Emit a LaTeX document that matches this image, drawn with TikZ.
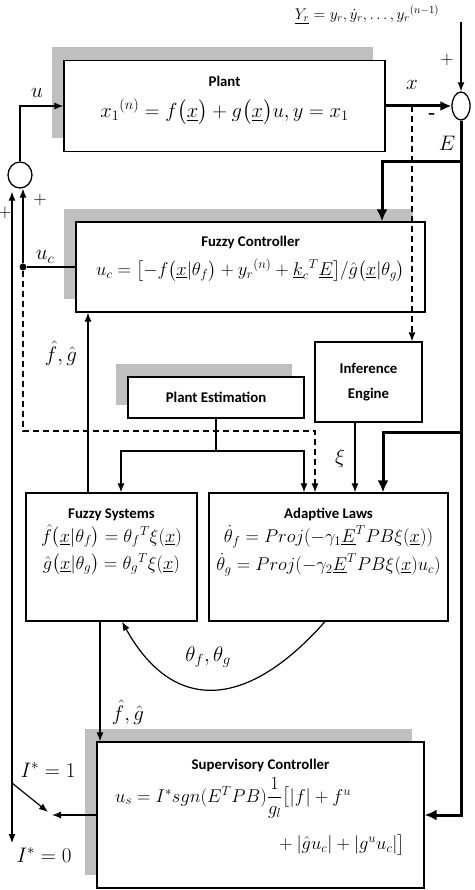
\RequirePackage{fix-cm}
\documentclass[tikz,border=0pt]{standalone}
\usepackage{fontspec}
\usepackage{amsmath}
\newfontfamily\blockfont{Carlito}
\usetikzlibrary{shapes.geometric}
\usetikzlibrary{shadows}
\usetikzlibrary{arrows.meta}

\begin{document}
\begin{tikzpicture}[x=1pt,y=-1pt,
    block/.style={draw,fill=white,line width=1.2pt,inner sep=0pt},
    shadowblock/.style={block,general shadow={fill=black!25,shadow xshift=-12pt,shadow yshift=13pt}},
    summer/.style={ellipse,draw,fill=white,line width=1.3pt,inner sep=0pt},
    title/.style={font=\fontsize{14.8}{25}\blockfont\bfseries,align=center},
    formula/.style={font=\fontsize{18.5}{22}\selectfont,inner sep=0pt},
    sig/.style={font=\fontsize{21}{24}\selectfont,inner sep=0pt},
    flow/.style={line width=1.2pt,-{Latex[length=9pt,width=7pt]}},
    heavy/.style={line width=3pt,-{Latex[length=12pt,width=11pt]}}]
    \useasboundingbox (0,0) rectangle (474,890);
    \node[shadowblock,minimum width=321pt,minimum height=91pt] (plant) at (224.5,106) {};
    \node[shadowblock,minimum width=349pt,minimum height=90pt] (fc) at (250.5,267) {};
    \node[shadowblock,minimum width=176pt,minimum height=41pt] (pe) at (216,397.5) {};
    \node[block,minimum width=107pt,minimum height=80pt] (ie) at (368.5,382) {};
    \node[block,minimum width=171pt,minimum height=128pt] (fs) at (111.5,557) {};
    \node[block,minimum width=239pt,minimum height=128pt] (al) at (328.5,557) {};
    \node[shadowblock,minimum width=327pt,minimum height=146pt] (sc) at (260.5,815) {};
    \node[summer,minimum width=18pt,minimum height=28pt] (sumr) at (461,106) {};
    \node[summer,minimum width=24pt,minimum height=26pt] (suml) at (20,175) {};
    \node[circle,fill=black,inner sep=0pt,minimum size=7pt] (ucdot) at (23,267) {};
    \node[title] (plant-t) at ([yshift=-21.5pt]plant.north) {Plant};
    \node[formula,font=\fontsize{20.5}{24}\selectfont] (plant-e) at ([yshift=-52pt]plant.north) {$x_1{}^{(n)} = f\bigl(\underline{x}\bigr) + g\bigl(\underline{x}\bigr)u, y = x_1$};
    \node[title] (fc-t) at ([yshift=-21pt]fc.north) {Fuzzy Controller};
    \node[formula] (fc-e) at ([yshift=-49pt]fc.north) {$u_c = \bigl[-f\bigl(\underline{x}|\theta_f\bigr) + y_r{}^{(n)} + \underline{k}_c{}^T\underline{E}\bigr]/\hat{g}\bigl(\underline{x}|\theta_g\bigr)$};
    \node[title] (pe-t) at (pe.center) {Plant Estimation};
    \node[title] (ie-t) at (ie.center) {Inference\\Engine};
    \node[title] (fs-t) at ([yshift=-22pt]fs.north) {Fuzzy Systems};
    \node[formula] (fs-e1) at ([yshift=-44pt]fs.north) {$\hat{f}\bigl(\underline{x}|\theta_f\bigr) = \theta_f{}^T\xi(\underline{x})$};
    \node[formula] (fs-e2) at ([yshift=-72pt]fs.north) {$\hat{g}\bigl(\underline{x}|\theta_g\bigr) = \theta_g{}^T\xi(\underline{x})$};
    \node[title] (al-t) at ([yshift=-22pt]al.north) {Adaptive Laws};
    \node[formula] (al-e1) at ([yshift=-44pt]al.north) {$\dot{\theta}_f = Proj(-\gamma_1\underline{E}^T PB\xi(\underline{x}))$};
    \node[formula] (al-e2) at ([yshift=-72pt]al.north) {$\dot{\theta}_g = Proj(-\gamma_2\underline{E}^T PB\xi(\underline{x})u_c)$};
    \node[title] (sc-t) at ([yshift=-24pt]sc.north) {Supervisory Controller};
    \node[formula,anchor=west] (sc-e1) at (115,798) {$u_s = I^* sgn(E^T PB)\dfrac{1}{g_l}\bigl[|f| + f^u$};
    \node[formula,anchor=east] (sc-e2) at (405,845) {${}+ |\hat{g}u_c| + |g^u u_c|\bigr]$};
    \coordinate (yr) at (461,22);
    \coordinate (xtap) at (412,106);
    \coordinate (e1) at (461,162);
    \coordinate (e2) at (461,432);
    \coordinate (dk) at (315,431);
    \coordinate (pj) at (216,451);
    \coordinate (sw) at (12,783);
    \coordinate (swtip) at (48,812);
    \coordinate (usend) at (52,815);
    \coordinate (i0) at (12,843);
    \draw[flow] (yr) -- (sumr.north);
    \draw[heavy,-{Latex[length=11pt,width=10pt]}] (plant.east) -- (sumr.west);
    \draw[heavy] (sumr.south) |- (sc.east);
    \draw[heavy] (e1) -| ([xshift=131.5pt]fc.north);
    \draw[heavy] (e2) -| ([xshift=54.5pt]al.north);
    \draw[flow] (suml.north) |- (plant.west);
    \draw[line width=1.2pt] (fc.west) -- (ucdot);
    \draw[flow] (ucdot) -- (ucdot |- suml.south);
    \draw[flow,shorten >=3pt] (sw) -- (sw |- suml.south);
    \draw[flow] (sw) -- (i0);
    \draw[flow] (sw) -- (swtip);
    \draw[flow] (sc.west) -- (usend);
    \draw[flow,dashed,dash pattern=on 6pt off 4pt] (xtap) -- (xtap |- ie.north);
    \draw[flow,dashed,dash pattern=on 6pt off 4pt] (ucdot) |- (dk) -- (dk |- al.north);
    \draw[flow] ([xshift=-23.5pt]fs.north) -- ([xshift=-23.5pt]fs.north |- fc.south);
    \draw[line width=1.2pt] (pe.south) -- (pj);
    \draw[flow] (pj) -| ([xshift=9.5pt]fs.north);
    \draw[flow] (pj) -| ([xshift=-24.5pt]al.north);
    \draw[flow] ([xshift=-13.5pt]ie.south) -- ([xshift=-13.5pt]ie.south |- al.north);
    \draw[flow] ([xshift=-3.5pt]al.south) .. controls (245,712) and (172,712) .. ([xshift=10.5pt]fs.south);
    \draw[flow] ([xshift=-11.5pt]fs.south) -- ([xshift=-11.5pt]fs.south |- sc.north);
    \node[formula,font=\fontsize{15.5}{18}\selectfont] (yr-l) at (367,15) {$\underline{Y_r} = y_r, \dot{y}_r, \dots, y_r{}^{(n-1)}$};
    \node[sig] (x-l) at (412,85) {$x$};
    \node[sig] (u-l) at (37,93) {$u$};
    \node[sig] (e-l) at (447,143) {$E$};
    \node[sig] (uc-l) at (45,257) {$u_c$};
    \node[sig] (fg-l1) at (61,353) {$\hat{f},\hat{g}$};
    \node[sig] (fg-l2) at (128,712) {$\hat{f},\hat{g}$};
    \node[sig] (th-l) at (208,657) {$\theta_f,\theta_g$};
    \node[sig] (xi-l) at (340,458) {$\xi$};
    \node[sig] (i1-l) at (48,770) {$I^* = 1$};
    \node[sig] (i0-l) at (44,855) {$I^* = 0$};
    \node[formula] (pr-l) at (447,60) {$+$};
    \node[formula] (mr-l) at (432,116) {\bfseries -};
    \node[formula] (pl1-l) at (40,200) {$+$};
    \node[formula] (pl2-l) at (5,213) {$+$};
\end{tikzpicture}
\end{document}
